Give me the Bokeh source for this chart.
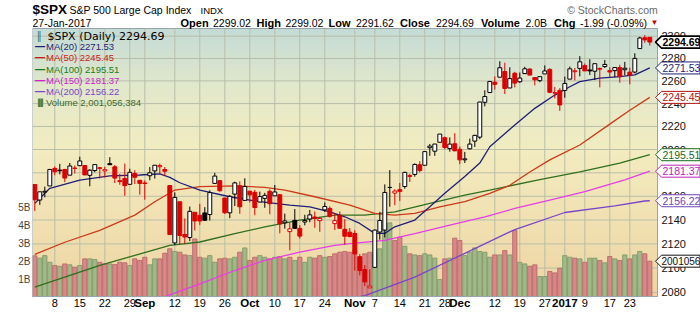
import numpy as np
import pandas as pd
from bokeh.plotting import figure
from bokeh.models import (Range1d, LinearAxis, FixedTicker, ColumnDataSource, LinearScale)
from bokeh.core.properties import value
from bokeh.embed import file_html
from bokeh.resources import INLINE

# ---------------- data ----------------
holidays = ["2016-09-05", "2016-11-24", "2016-12-26", "2017-01-02", "2017-01-16"]
dates = [d.strftime("%Y-%m-%d") for d in pd.bdate_range("2016-08-02", "2017-01-27")
         if d.strftime("%Y-%m-%d") not in holidays]

prior_close = 2170.84
opens = [2169.94, 2156.81, 2163.51, 2168.79, 2183.76, 2182.24, 2182.81, 2177.97, 2183.74, 2186.08,
         2186.24, 2177.84, 2181.90, 2184.24, 2181.58, 2187.81, 2185.09, 2173.29, 2175.10, 2170.19,
         2179.45, 2173.56, 2171.33, 2177.49, 2181.61, 2185.17, 2182.76, 2169.08, 2120.86, 2155.40,
         2127.86, 2125.36, 2146.48, 2143.99, 2145.94, 2144.58, 2170.94, 2173.29, 2158.54, 2146.04,
         2161.85, 2168.90, 2156.51, 2164.33, 2163.37, 2155.15, 2158.22, 2164.19, 2160.39, 2161.35,
         2137.67, 2130.26, 2139.68, 2132.95, 2138.31, 2140.81, 2142.51, 2139.43, 2148.50, 2149.72,
         2136.97, 2144.06, 2132.23, 2129.78, 2128.68, 2109.43, 2098.80, 2083.79, 2100.59, 2129.92,
         2131.56, 2167.49, 2162.71, 2165.64, 2168.29, 2177.53, 2178.61, 2186.85, 2186.43, 2201.56,
         2198.55, 2206.27, 2210.21, 2200.76, 2204.97, 2200.17, 2191.12, 2200.65, 2207.26, 2210.72,
         2241.13, 2249.73, 2258.83, 2263.32, 2268.35, 2253.77, 2266.81, 2259.24, 2266.50, 2270.54,
         2262.93, 2260.25, 2266.23, 2270.23, 2249.50, 2251.61, 2251.57, 2261.60, 2268.18, 2271.14,
         2273.59, 2269.72, 2268.60, 2271.14, 2272.74, 2269.14, 2269.14, 2271.90, 2269.96, 2267.78,
         2267.88, 2288.88, 2298.63, 2299.02]
highs = [2170.20, 2163.79, 2168.19, 2182.87, 2185.44, 2187.66, 2183.41, 2188.45, 2186.28, 2193.81,
         2186.24, 2183.08, 2187.03, 2185.00, 2185.15, 2193.42, 2186.66, 2179.00, 2187.94, 2183.48,
         2182.27, 2173.79, 2173.56, 2184.87, 2186.57, 2187.87, 2184.94, 2169.08, 2163.30, 2155.40,
         2141.33, 2151.31, 2146.48, 2153.61, 2150.80, 2165.11, 2179.99, 2173.75, 2158.54, 2161.13,
         2172.40, 2172.67, 2175.30, 2164.33, 2165.46, 2163.95, 2162.93, 2165.86, 2169.60, 2161.56,
         2145.36, 2138.19, 2149.19, 2135.61, 2144.38, 2148.44, 2147.18, 2142.63, 2154.79, 2151.44,
         2145.73, 2147.13, 2140.72, 2133.25, 2131.45, 2111.76, 2102.56, 2099.07, 2132.00, 2146.87,
         2170.10, 2182.30, 2165.92, 2171.36, 2180.84, 2179.22, 2188.06, 2189.89, 2198.70, 2204.80,
         2204.72, 2213.35, 2211.14, 2210.46, 2214.10, 2202.60, 2197.95, 2209.42, 2212.78, 2241.63,
         2251.69, 2259.80, 2264.03, 2277.53, 2276.20, 2272.12, 2268.05, 2267.47, 2272.56, 2271.23,
         2263.18, 2263.79, 2273.82, 2271.31, 2254.51, 2253.58, 2263.88, 2272.82, 2271.50, 2282.10,
         2275.49, 2279.27, 2275.32, 2271.78, 2278.68, 2272.08, 2272.01, 2274.33, 2276.96, 2271.78,
         2284.63, 2299.55, 2300.99, 2299.02]
lows = [2147.58, 2152.67, 2159.07, 2168.79, 2177.85, 2178.61, 2172.00, 2177.97, 2179.42, 2186.08,
        2178.14, 2168.50, 2180.46, 2175.13, 2175.96, 2186.80, 2171.25, 2169.74, 2160.39, 2170.19,
        2170.41, 2161.35, 2157.09, 2173.59, 2175.10, 2179.07, 2177.49, 2127.81, 2119.12, 2119.91,
        2119.90, 2122.36, 2131.20, 2135.91, 2139.17, 2139.57, 2170.94, 2163.97, 2145.04, 2141.55,
        2151.79, 2145.20, 2156.51, 2154.77, 2144.01, 2155.15, 2150.28, 2144.85, 2160.39, 2128.84,
        2132.77, 2114.72, 2132.98, 2124.43, 2135.49, 2138.15, 2133.44, 2130.09, 2146.91, 2141.93,
        2131.59, 2132.52, 2119.36, 2125.53, 2097.85, 2094.00, 2085.23, 2083.79, 2100.59, 2123.56,
        2125.35, 2151.17, 2152.49, 2156.08, 2166.38, 2172.20, 2176.65, 2180.38, 2186.43, 2194.51,
        2194.51, 2206.27, 2200.36, 2198.15, 2198.81, 2187.44, 2188.37, 2199.97, 2202.21, 2208.93,
        2237.57, 2249.23, 2252.37, 2263.32, 2248.44, 2253.77, 2254.24, 2258.21, 2266.14, 2265.15,
        2256.08, 2258.84, 2266.15, 2249.11, 2244.56, 2233.62, 2245.13, 2261.60, 2260.45, 2264.06,
        2268.90, 2265.27, 2260.83, 2254.25, 2271.51, 2262.81, 2263.35, 2258.41, 2265.01, 2257.02,
        2266.68, 2288.88, 2294.08, 2291.62]
closes = [2157.03, 2163.79, 2164.25, 2182.87, 2180.89, 2181.74, 2175.49, 2185.79, 2184.05, 2190.15,
          2178.15, 2182.22, 2187.02, 2183.87, 2182.64, 2186.90, 2175.44, 2172.47, 2169.04, 2180.38,
          2176.12, 2170.95, 2170.86, 2179.98, 2186.48, 2186.16, 2181.30, 2127.81, 2159.04, 2127.02,
          2125.77, 2147.26, 2139.16, 2139.12, 2139.76, 2163.12, 2177.18, 2164.69, 2146.10, 2159.93,
          2171.37, 2151.13, 2168.27, 2161.20, 2150.49, 2159.73, 2160.77, 2153.74, 2163.66, 2136.73,
          2139.18, 2132.55, 2132.98, 2126.50, 2139.60, 2144.29, 2141.34, 2141.16, 2151.33, 2143.16,
          2139.43, 2133.04, 2126.41, 2126.15, 2111.72, 2097.94, 2088.66, 2085.18, 2131.52, 2139.56,
          2163.26, 2167.48, 2164.45, 2164.20, 2180.39, 2176.94, 2187.12, 2181.90, 2198.18, 2202.94,
          2204.72, 2213.35, 2201.72, 2204.66, 2198.81, 2191.08, 2191.95, 2204.71, 2212.23, 2241.35,
          2246.19, 2259.53, 2256.96, 2271.72, 2253.28, 2262.03, 2258.07, 2262.53, 2270.76, 2265.18,
          2260.96, 2263.79, 2268.88, 2249.92, 2249.26, 2238.83, 2257.83, 2270.75, 2269.00, 2276.98,
          2268.90, 2268.90, 2275.32, 2270.44, 2274.64, 2267.89, 2271.89, 2263.69, 2271.31, 2265.20,
          2280.07, 2298.37, 2296.68, 2294.69]
# volume in billions
volumes = [2.30, 2.17, 2.31, 1.94, 1.76, 1.72, 1.85, 1.80, 1.67, 1.76,
           2.13, 2.13, 2.09, 1.94, 1.85, 1.85, 1.81, 1.94, 1.91, 1.76,
           2.13, 2.04, 2.22, 1.80, 2.13, 2.13, 2.44, 2.69, 2.54, 2.50,
           2.35, 2.31, 3.24, 2.22, 2.17, 2.31, 1.94, 2.13, 2.17, 2.13,
           2.22, 2.50, 2.74, 2.04, 2.22, 2.31, 2.22, 2.13, 2.22, 2.26,
           2.13, 2.22, 2.04, 2.22, 1.94, 2.22, 2.17, 2.31, 2.22, 2.26,
           2.41, 2.50, 2.54, 2.50, 2.59, 2.22, 2.41, 2.50, 2.41, 2.69,
           3.80, 4.13, 3.15, 3.33, 2.83, 2.41, 2.35, 2.31, 2.41, 2.35,
           2.17, 0.98, 2.13, 2.17, 3.28, 3.15, 2.31, 2.50, 2.74, 2.54,
           2.50, 2.22, 2.35, 2.35, 2.59, 2.35, 3.70, 1.94, 1.85, 1.72,
           1.80, 1.15, 1.15, 1.43, 1.35, 1.61, 2.31, 2.22, 2.17, 2.13,
           1.94, 2.17, 2.17, 2.04, 1.91, 2.26, 2.13, 2.04, 2.35, 2.13,
           2.35, 2.54, 2.41, 2.001056384]

ma20_dates = ["2016-08-02", "2016-08-05", "2016-08-15", "2016-08-23", "2016-08-31", "2016-09-07",
              "2016-09-09", "2016-09-13", "2016-09-19", "2016-09-27", "2016-10-05", "2016-10-13",
              "2016-10-19", "2016-10-25", "2016-10-28", "2016-11-02", "2016-11-07", "2016-11-09",
              "2016-11-11", "2016-11-17", "2016-11-22", "2016-11-28", "2016-12-02", "2016-12-07",
              "2016-12-09", "2016-12-16", "2016-12-22", "2016-12-29", "2017-01-04", "2017-01-06",
              "2017-01-12", "2017-01-19", "2017-01-24", "2017-01-27"]
ma20_vals = [2154.0, 2166.8, 2173.8, 2177.3, 2178.1, 2179.0, 2176.1, 2171.5, 2165.3, 2159.6,
             2155.4, 2152.6, 2151.1, 2146.9, 2142.7, 2137.1, 2128.8, 2128.8, 2134.3, 2139.9,
             2151.1, 2162.5, 2176.8, 2188.3, 2202.4, 2221.2, 2235.8, 2247.5, 2254.8, 2259.4,
             2262.4, 2263.8, 2265.3, 2271.53]
ma50_dates = ["2016-08-02", "2016-08-10", "2016-08-19", "2016-08-30", "2016-09-06", "2016-09-12",
              "2016-09-19", "2016-09-28", "2016-10-06", "2016-10-12", "2016-10-20", "2016-10-31",
              "2016-11-07", "2016-11-11", "2016-11-17", "2016-11-25", "2016-12-02", "2016-12-09",
              "2016-12-15", "2016-12-21", "2016-12-28", "2017-01-06", "2017-01-17", "2017-01-23",
              "2017-01-27"]
ma50_vals = [2111.3, 2121.4, 2131.3, 2144.1, 2155.4, 2165.3, 2168.2, 2168.8, 2167.6, 2165.3,
             2159.6, 2152.6, 2145.6, 2144.1, 2145.6, 2151.1, 2155.4, 2162.5, 2169.3, 2180.7,
             2191.1, 2203.9, 2222.0, 2234.1, 2245.45]
ma100_dates = ["2016-08-02", "2016-08-19", "2016-09-09", "2016-09-19", "2016-09-28", "2016-10-06",
               "2016-10-17", "2016-10-26", "2016-11-03", "2016-11-11", "2016-11-22", "2016-12-02",
               "2016-12-09", "2016-12-23", "2017-01-06", "2017-01-19", "2017-01-27"]
ma100_vals = [2084.3, 2102.2, 2118.8, 2121.6, 2128.6, 2134.2, 2139.9, 2144.1, 2144.1, 2146.9,
              2154.0, 2161.0, 2165.3, 2174.2, 2180.7, 2188.3, 2195.51]
ma150_dates = ["2016-09-01", "2016-09-08", "2016-09-19", "2016-09-28", "2016-10-06", "2016-10-17",
               "2016-10-26", "2016-10-31", "2016-11-09", "2016-11-17", "2016-11-29", "2016-12-08",
               "2016-12-16", "2016-12-28", "2017-01-09", "2017-01-20", "2017-01-27"]
ma150_vals = [2071.0, 2076.7, 2087.1, 2098.0, 2106.3, 2113.2, 2118.8, 2120.3, 2123.0, 2128.6,
              2135.6, 2142.6, 2149.7, 2156.8, 2163.9, 2173.9, 2181.37]
ma200_dates = ["2016-10-25", "2016-11-03", "2016-11-17", "2016-12-02", "2016-12-16", "2017-01-03",
               "2017-01-18", "2017-01-26", "2017-01-27"]
ma200_vals = [2072.0, 2077.5, 2092.5, 2112.2, 2132.0, 2146.3, 2151.9, 2156.0, 2156.22]

price_ticks = [2080, 2100, 2120, 2140, 2160, 2180, 2200, 2220, 2240, 2260, 2280, 2300]
vol_ticks = [1, 2, 3, 4, 5]
day_tick_dates = ["2016-08-08", "2016-08-15", "2016-08-22", "2016-08-29", "2016-09-12", "2016-09-19",
                  "2016-09-26", "2016-10-10", "2016-10-17", "2016-10-24", "2016-11-07", "2016-11-14",
                  "2016-11-21", "2016-11-28", "2016-12-12", "2016-12-19", "2016-12-27", "2017-01-09",
                  "2017-01-17", "2017-01-23"]
day_tick_text = ["8", "15", "22", "29", "12", "19", "26", "10", "17", "24", "7", "14", "21", "28",
                 "12", "19", "27", "9", "17", "23"]
month_tick_dates = ["2016-09-01", "2016-10-03", "2016-11-01", "2016-12-01", "2017-01-03"]
month_tick_text = ["Sep", "Oct", "Nov", "Dec", "2017"]

# ---------------- layout (pixels of the 700x312 canvas) ----------------
CW, CH = 700, 312
PL, PR, PT, PB = 32, 657, 28, 296          # plot panel edges
X0, DX = 34.3, 5.0                          # first bar centre, bar pitch
PX_PER_LN = 2549.0                          # price scale: pixels per unit of ln(price)
REF_P, REF_Y = 2300.0, 35.7
VOL_PX, VOL_Y0 = 18.0, 296.7                # 1B == 18 px, zero line

x_lo, x_hi = (PL - X0) / DX, (CW - X0) / DX
p_hi = REF_P * np.exp(REF_Y / PX_PER_LN)
p_lo = REF_P * np.exp(-(CH - REF_Y) / PX_PER_LN)
v_lo, v_hi = (VOL_Y0 - CH) / VOL_PX, VOL_Y0 / VOL_PX
p_lo_panel = REF_P * np.exp(-(PB - REF_Y) / PX_PER_LN)
p_hi_panel = REF_P * np.exp(-(PT - REF_Y) / PX_PER_LN)
i_lo_panel, i_hi_panel = (PL - X0) / DX, (PR - X0) / DX

pos = {d: i for i, d in enumerate(dates)}
n = len(dates)
x = list(range(n))

p = figure(width=CW, height=CH, x_range=Range1d(x_lo, x_hi), y_range=Range1d(p_lo, p_hi),
           y_axis_type="log", x_axis_location=None, y_axis_location=None,
           output_backend="svg", toolbar_location=None, min_border_left=PL,
           min_border_right=0, min_border_top=0, min_border_bottom=0, title=None)
p.background_fill_color = "white"
p.border_fill_color = "white"
p.outline_line_color = None
p.grid.visible = False
p.extra_y_ranges = {"vol": Range1d(v_lo, v_hi), "py": Range1d(CH, 0)}
p.extra_y_scales = {"vol": LinearScale(), "py": LinearScale()}
p.extra_x_ranges = {"px": Range1d(PL, CW)}
p.extra_x_scales = {"px": LinearScale()}

FONT = "Liberation Sans"

# volume axis (left)
vax = LinearAxis(y_range_name="vol", ticker=FixedTicker(ticks=vol_ticks),
                 major_label_overrides={t: "%dB" % t for t in vol_ticks})
vax.major_tick_out = 0
vax.major_tick_in = 0
vax.minor_tick_out = 0
vax.minor_tick_in = 0
vax.axis_line_color = None
vax.major_label_standoff = 2
vax.major_label_text_font = FONT
vax.major_label_text_font_size = "10px"
p.add_layout(vax, "left")

# gradient panel background (style only)
stops = [(0.0, (237, 212, 162)), (0.30, (241, 225, 178)), (0.55, (242, 236, 192)),
         (0.78, (226, 232, 203)), (1.0, (196, 219, 214))]
nb = 67
bl, bt, bc = [], [], []
for k in range(nb):
    f = (k + 0.5) / nb
    for j in range(len(stops) - 1):
        if stops[j][0] <= f <= stops[j + 1][0]:
            t = (f - stops[j][0]) / (stops[j + 1][0] - stops[j][0])
            c = tuple(int(round(stops[j][1][m] + t * (stops[j + 1][1][m] - stops[j][1][m]))) for m in range(3))
            break
    bl.append(PB - k * (PB - PT) / nb)
    bt.append(max(PT, PB - (k + 1) * (PB - PT) / nb - 0.6))
    bc.append("#%02x%02x%02x" % c)
p.quad(left=PL, right=PR, bottom=bl, top=bt, fill_color=bc, line_color=None,
       x_range_name="px", y_range_name="py")

# grid lines
GRID = "#b8bea9"
day_ticks = [pos[d] for d in day_tick_dates]
month_ticks = [pos[d] for d in month_tick_dates]
gx = sorted(day_ticks + month_ticks)
p.segment(x0=i_lo_panel, x1=i_hi_panel, y0=price_ticks, y1=price_ticks, line_color=GRID, line_width=1)
p.segment(x0=gx, x1=gx, y0=p_lo_panel, y1=p_hi_panel, line_color=GRID, line_width=1)

# volume
prev = [prior_close] + closes[:-1]
up = [c >= pc for c, pc in zip(closes, prev)]
vsrc = ColumnDataSource(dict(x=x, v=volumes,
                             fc=["#a1b888" if u else "#d88888" for u in up],
                             lc=["#7a9664" if u else "#b66262" for u in up]))
p.vbar(x="x", top="v", bottom=0, width=0.86, fill_color="fc", line_color="lc", line_width=0.8,
       y_range_name="vol", source=vsrc)

# moving averages
ma_specs = [(ma200_dates, ma200_vals, "#7b45c9"), (ma150_dates, ma150_vals, "#e63ee6"),
            (ma100_dates, ma100_vals, "#2f6f1f"), (ma50_dates, ma50_vals, "#cc3a1a"),
            (ma20_dates, ma20_vals, "#1f1f78")]
for dl, vl, col in ma_specs:
    p.line([pos[d] for d in dl], vl, line_color=col, line_width=1.3)

# candles
col = ["#000000" if u else "#dd0000" for u in up]
hollow = [c > o for c, o in zip(closes, opens)]
csrc = ColumnDataSource(dict(
    x=x, h=highs, l=lows, top=[max(o, c) for o, c in zip(opens, closes)],
    bot=[min(o, c) for o, c in zip(opens, closes)], col=col,
    fill=["white" if hw else c for hw, c in zip(hollow, col)]))
p.segment(x0="x", x1="x", y0="l", y1="h", line_color="col", line_width=1, source=csrc)
p.vbar(x="x", top="top", bottom="bot", width=0.78, fill_color="fill", line_color="col",
       line_width=1, source=csrc)

# white surround outside the panel + panel border
p.quad(left=[PL, PL, PR], right=[CW, CW, CW], bottom=[CH, PT, CH], top=[PB, 0, 0],
       fill_color="white", line_color=None, x_range_name="px", y_range_name="py")
p.quad(left=PL, right=PR, bottom=PB, top=PT, fill_color=None, line_color="#97a4ae",
       line_width=1, x_range_name="px", y_range_name="py")


# ---------------- texts ----------------
def txt(cx, cy, s, size="11px", style="normal", color="#000000", font=FONT, align="left",
        xr="px", yr="py"):
    kw = {}
    if xr:
        kw["x_range_name"] = xr
    if yr:
        kw["y_range_name"] = yr
    p.text(x=[cx], y=[cy], text=[s], text_font=value(font), text_font_size=value(size),
           text_font_style=style, text_color=color, text_align=align, text_baseline="middle", **kw)


# price axis labels (positioned on the log price scale)
for v in price_ticks:
    txt(PR + 4, v, "%d" % v, size="11px", color="#111111", yr=None)
# date labels
for t, s in zip(day_ticks, day_tick_text):
    txt(t, 302.5, s, size="11px", align="center", xr=None)
for t, s in zip(month_ticks, month_tick_text):
    txt(t, 302.5, s, size="11.5px", style="bold", align="center", xr=None)

# header
txt(32, 9, "$SPX", size="13.5px", style="bold")
txt(69, 9.5, "S&P 500 Large Cap Index", size="10.5px")
txt(200, 10, "INDX", size="9.5px")
txt(32, 22, "27-Jan-2017", size="10.5px")
hdr = [(180, "Open", True), (212.5, "%.2f" % opens[-1], False), (256, "High", True),
       (285, "%.2f" % highs[-1], False), (328, "Low", True), (355.5, "%.2f" % lows[-1], False),
       (399.5, "Close", True), (435.5, "%.2f" % closes[-1], False), (480.5, "Volume", True),
       (525, "%.1fB" % volumes[-1], False), (553.5, "Chg", True),
       (579.5, "%.2f (%.2f%%)" % (closes[-1] - closes[-2], (closes[-1] / closes[-2] - 1) * 100), False)]
for cx, s, b in hdr:
    txt(cx, 22, s, size="11px" if b else "10.5px", style="bold" if b else "normal")
txt(650, 22, "\u25bc", size="8px", color="#cc0000")
txt(566.7, 9, "\u00a9 StockCharts.com", size="10.5px", color="#6a6a6a")

# legend inside the panel
txt(35.5, 35.5, "\u2551", size="9px", color="#1d5e1d")
txt(47, 35.5, "$SPX (Daily) %.2f" % closes[-1], size="11px", font="DejaVu Sans")
leg = [(46.3, "MA(20) %.2f" % ma20_vals[-1], "#1f1f78"), (57.4, "MA(50) %.2f" % ma50_vals[-1], "#cc1a1a"),
       (68.5, "MA(100) %.2f" % ma100_vals[-1], "#1a7a1a"), (79.6, "MA(150) %.2f" % ma150_vals[-1], "#cc22cc"),
       (90.7, "MA(200) %.2f" % ma200_vals[-1], "#7b45c9")]
for cy, s, c in leg:
    txt(34.5, cy, "\u2014", size="10px", style="bold", color=c)
    txt(45.5, cy, s, size="9.5px", color=c)
txt(35, 101.8, "\u2590\u258c", size="7px", color="#4f7f3f")
txt(45.5, 101.8, "Volume {:,}".format(2001056384), size="9.5px", color="#3d6b2d")

# right-hand value tags
HALF = 6.0
fp = np.exp(HALF / PX_PER_LN)


def tag_price(v, text, color, bold=False):
    p.patch(x=[655, 661, CW - 0.5, CW - 0.5, 661], y=[v, v * fp, v * fp, v / fp, v / fp],
            fill_color="white", line_color=color, line_width=1.6 if bold else 1, x_range_name="px")
    txt(662, v, text, size="10.5px", style="bold" if bold else "normal", color=color, yr=None)


tag_price(closes[-1], "%.2f" % closes[-1], "#000000", bold=True)
tag_price(ma20_vals[-1], "%.2f" % ma20_vals[-1], "#1f1f78")
tag_price(ma50_vals[-1], "%.2f" % ma50_vals[-1], "#b01010")
tag_price(ma100_vals[-1], "%.2f" % ma100_vals[-1], "#1a6a1a")
tag_price(ma150_vals[-1], "%.2f" % ma150_vals[-1], "#bb22bb")
tag_price(ma200_vals[-1], "%.2f" % ma200_vals[-1], "#6f45b9")
vv = volumes[-1]
hv = HALF / VOL_PX
p.patch(x=[655, 661, CW - 0.5, CW - 0.5, 661], y=[vv, vv + hv, vv + hv, vv - hv, vv - hv],
        fill_color="white", line_color="#111111", line_width=1, x_range_name="px", y_range_name="vol")
txt(661, vv, "%d" % (vv * 1e6), size="10px", color="#111111", yr="vol")

open("out.html", "w").write(file_html(p, INLINE))
